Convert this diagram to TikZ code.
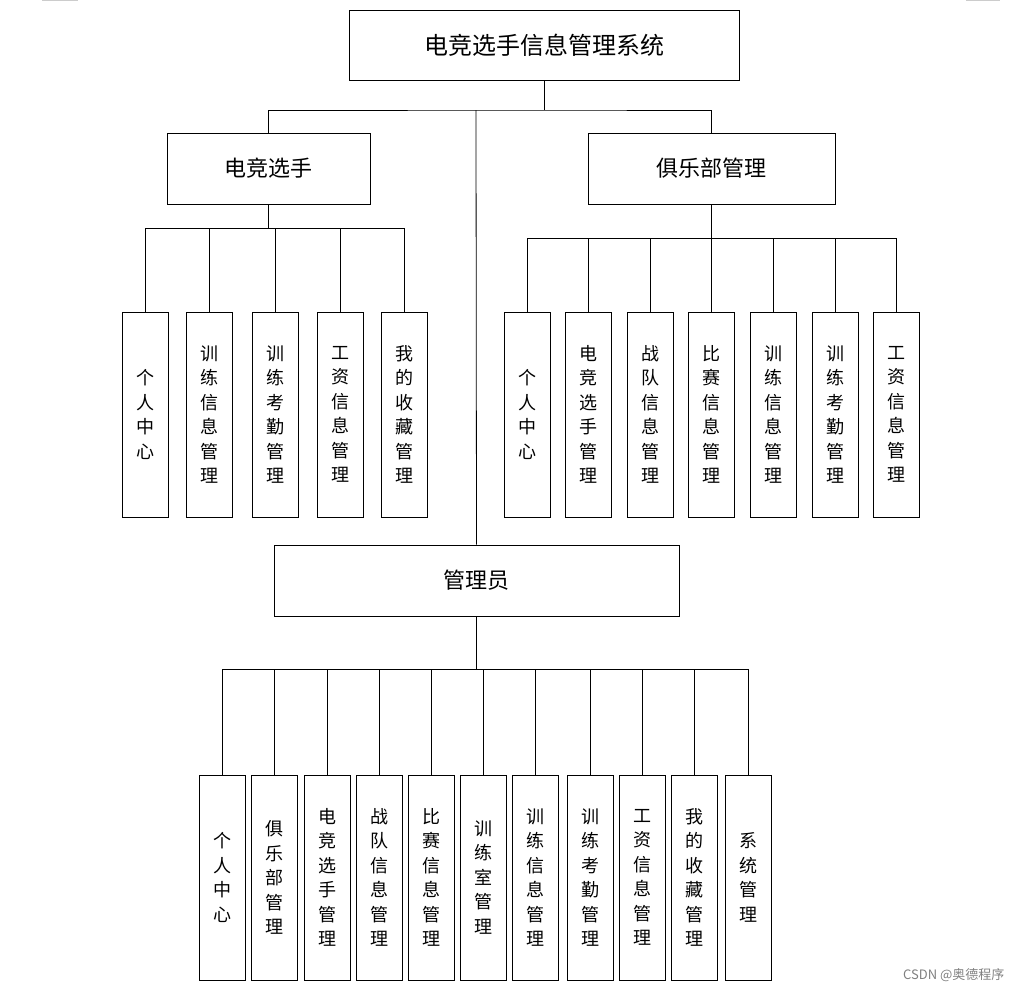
\documentclass[tikz,border=0pt]{standalone}
\usepackage{fontspec}
\setmainfont{Noto Sans CJK SC}
\begin{document}
\begin{tikzpicture}[x=1pt,y=-1pt,
  box/.style={draw,line width=0.8pt,inner sep=0pt},
  leaf/.style={box,minimum width=46pt,minimum height=205pt,font=\fontsize{18}{24.5}\selectfont,align=center},
  ln/.style={line width=0.8pt}]
\useasboundingbox (0,0) rectangle (1021,993);
\draw[gray!40] (42,0)--(78,0) (966,0)--(1000,0);
\node[box,minimum width=390pt,minimum height=70pt,font=\fontsize{24}{28}\selectfont] (root) at (544,45) {电竞选手信息管理系统};
\node[box,minimum width=203pt,minimum height=71pt,font=\fontsize{22}{26}\selectfont] (pl) at (268.5,168.5) {电竞选手};
\node[box,minimum width=247pt,minimum height=71pt,font=\fontsize{22}{26}\selectfont] (cl) at (711.5,168.5) {俱乐部管理};
\node[box,minimum width=405pt,minimum height=71pt,font=\fontsize{22}{26}\selectfont] (ad) at (476.5,580.5) {管理员};
\draw[ln] (root.south) -- (544,110) coordinate (j0);
\draw[ln] (pl.north) |- (j0) -| (cl.north);
\draw[ln] (476,110) -- (ad.north);
% player children
\foreach \n/\x/\t in {p1/145/个\\人\\中\\心, p2/209.5/训\\练\\信\\息\\管\\理, p3/275/训\\练\\考\\勤\\管\\理, p4/340/工\\资\\信\\息\\管\\理, p5/404.5/我\\的\\收\\藏\\管\\理}{
  \node[leaf] (\n) at (\x,414.5) {\t};
  \draw[ln] (\n.north) -- (\x,228);
}
\draw[ln] (pl.south) -- (268.5,228);
\draw[ln] (p1.north |- 0,228) -- (p5.north |- 0,228);
% club children
\foreach \n/\x/\t in {c1/527/个\\人\\中\\心, c2/588.5/电\\竞\\选\\手\\管\\理, c3/650/战\\队\\信\\息\\管\\理, c4/711.5/比\\赛\\信\\息\\管\\理, c5/773/训\\练\\信\\息\\管\\理, c6/835/训\\练\\考\\勤\\管\\理, c7/896.5/工\\资\\信\\息\\管\\理}{
  \node[leaf] (\n) at (\x,414.5) {\t};
  \draw[ln] (\n.north) -- (\x,238);
}
\draw[ln] (cl.south) -- (711.5,238);
\draw[ln] (c1.north |- 0,238) -- (c7.north |- 0,238);
% admin children
\foreach \n/\x/\t in {a1/222.5/个\\人\\中\\心, a2/274.5/俱\\乐\\部\\管\\理, a3/327/电\\竞\\选\\手\\管\\理, a4/379/战\\队\\信\\息\\管\\理, a5/431/比\\赛\\信\\息\\管\\理, a6/483/训\\练\\室\\管\\理, a7/535.5/训\\练\\信\\息\\管\\理, a8/590/训\\练\\考\\勤\\管\\理, a9/642/工\\资\\信\\息\\管\\理, a10/694/我\\的\\收\\藏\\管\\理, a11/748.5/系\\统\\管\\理}{
  \node[leaf] (\n) at (\x,877.5) {\t};
  \draw[ln] (\n.north) -- (\x,669);
}
\draw[ln] (ad.south) -- (476.5,669);
\draw[ln] (a1.north |- 0,669) -- (a11.north |- 0,669);
\node[text=gray,font=\fontsize{13}{15}\selectfont,anchor=east] (wm) at (1008,975) {CSDN @奥德程序};
\end{tikzpicture}
\end{document}
